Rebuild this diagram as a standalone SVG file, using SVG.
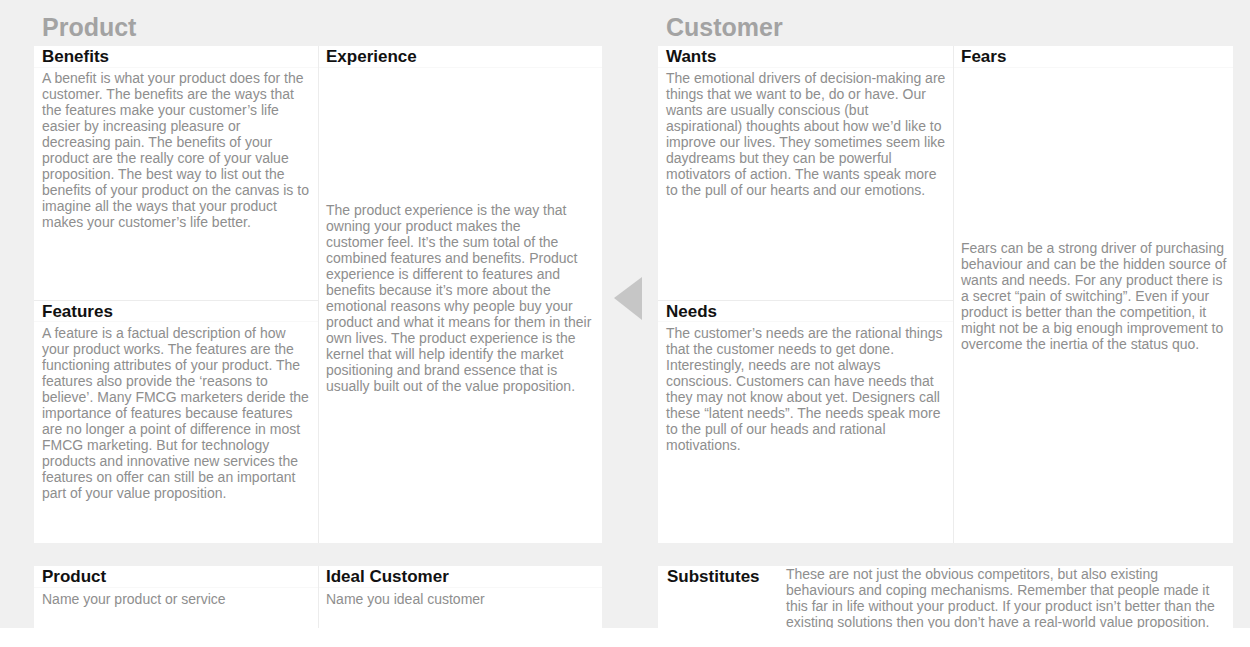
<svg xmlns="http://www.w3.org/2000/svg" width="1250" height="647" viewBox="0 0 1250 647">
<style>
.bg{fill:#f0f0f0}
.panel{fill:#ffffff}
.div{stroke:#ececec;stroke-width:1;fill:none}
.hl{stroke:#f8f8f8;stroke-width:1;fill:none}
.title{font-family:"Liberation Sans",Arial,sans-serif;font-weight:bold;font-size:25px;fill:#a3a3a3}
.head{font-family:"Liberation Sans",Arial,sans-serif;font-weight:bold;font-size:17px;fill:#111111}
.body{font-family:"Liberation Sans",Arial,sans-serif;font-size:14px;fill:#8e8e8e}
</style>
<rect class="bg" x="0" y="0" width="1250" height="628"/>

<text class="title" x="42" y="36">Product</text>
<text class="title" x="666" y="36">Customer</text>

<g id="product-panel">
<rect class="panel" x="34" y="46" width="568" height="497"/>
<line class="div" x1="318.5" y1="46" x2="318.5" y2="543"/>
<line class="div" x1="34" y1="300.5" x2="318" y2="300.5"/>
</g>

<g id="benefits">
<line class="hl" x1="34" y1="67.5" x2="318" y2="67.5"/>
<text class="head" x="42" y="62">Benefits</text>
<text class="body">
<tspan x="42" y="83">A benefit is what your product does for the</tspan>
<tspan x="42" y="99">customer. The benefits are the ways that</tspan>
<tspan x="42" y="115">the features make your customer’s life</tspan>
<tspan x="42" y="131">easier by increasing pleasure or</tspan>
<tspan x="42" y="147">decreasing pain. The benefits of your</tspan>
<tspan x="42" y="163">product are the really core of your value</tspan>
<tspan x="42" y="179">proposition. The best way to list out the</tspan>
<tspan x="42" y="195">benefits of your product on the canvas is to</tspan>
<tspan x="42" y="211">imagine all the ways that your product</tspan>
<tspan x="42" y="227">makes your customer’s life better.</tspan>
</text>
</g>

<g id="features">
<line class="hl" x1="34" y1="321.5" x2="318" y2="321.5"/>
<text class="head" x="42" y="317">Features</text>
<text class="body">
<tspan x="42" y="338">A feature is a factual description of how</tspan>
<tspan x="42" y="354">your product works. The features are the</tspan>
<tspan x="42" y="370">functioning attributes of your product. The</tspan>
<tspan x="42" y="386">features also provide the ‘reasons to</tspan>
<tspan x="42" y="402">believe’. Many FMCG marketers deride the</tspan>
<tspan x="42" y="418">importance of features because features</tspan>
<tspan x="42" y="434">are no longer a point of difference in most</tspan>
<tspan x="42" y="450">FMCG marketing. But for technology</tspan>
<tspan x="42" y="466">products and innovative new services the</tspan>
<tspan x="42" y="482">features on offer can still be an important</tspan>
<tspan x="42" y="498">part of your value proposition.</tspan>
</text>
</g>

<g id="experience">
<line class="hl" x1="319" y1="67.5" x2="602" y2="67.5"/>
<text class="head" x="326" y="62">Experience</text>
<text class="body">
<tspan x="326" y="215">The product experience is the way that</tspan>
<tspan x="326" y="231">owning your product makes the</tspan>
<tspan x="326" y="247">customer feel. It’s the sum total of the</tspan>
<tspan x="326" y="263">combined features and benefits. Product</tspan>
<tspan x="326" y="279">experience is different to features and</tspan>
<tspan x="326" y="295">benefits because it’s more about the</tspan>
<tspan x="326" y="311">emotional reasons why people buy your</tspan>
<tspan x="326" y="327">product and what it means for them in their</tspan>
<tspan x="326" y="343">own lives. The product experience is the</tspan>
<tspan x="326" y="359">kernel that will help identify the market</tspan>
<tspan x="326" y="375">positioning and brand essence that is</tspan>
<tspan x="326" y="391">usually built out of the value proposition.</tspan>
</text>
</g>

<g id="customer-panel">
<rect class="panel" x="658" y="46" width="575" height="497"/>
<line class="div" x1="953.5" y1="46" x2="953.5" y2="543"/>
<line class="div" x1="658" y1="300.5" x2="953" y2="300.5"/>
</g>

<g id="wants">
<line class="hl" x1="658" y1="67.5" x2="953" y2="67.5"/>
<text class="head" x="666" y="62">Wants</text>
<text class="body">
<tspan x="666" y="83">The emotional drivers of decision-making are</tspan>
<tspan x="666" y="99">things that we want to be, do or have. Our</tspan>
<tspan x="666" y="115">wants are usually conscious (but</tspan>
<tspan x="666" y="131">aspirational) thoughts about how we’d like to</tspan>
<tspan x="666" y="147">improve our lives. They sometimes seem like</tspan>
<tspan x="666" y="163">daydreams but they can be powerful</tspan>
<tspan x="666" y="179">motivators of action. The wants speak more</tspan>
<tspan x="666" y="195">to the pull of our hearts and our emotions.</tspan>
</text>
</g>

<g id="needs">
<line class="hl" x1="658" y1="321.5" x2="953" y2="321.5"/>
<text class="head" x="666" y="317">Needs</text>
<text class="body">
<tspan x="666" y="338">The customer’s needs are the rational things</tspan>
<tspan x="666" y="354">that the customer needs to get done.</tspan>
<tspan x="666" y="370">Interestingly, needs are not always</tspan>
<tspan x="666" y="386">conscious. Customers can have needs that</tspan>
<tspan x="666" y="402">they may not know about yet. Designers call</tspan>
<tspan x="666" y="418">these “latent needs”. The needs speak more</tspan>
<tspan x="666" y="434">to the pull of our heads and rational</tspan>
<tspan x="666" y="450">motivations.</tspan>
</text>
</g>

<g id="fears">
<line class="hl" x1="954" y1="67.5" x2="1233" y2="67.5"/>
<text class="head" x="961" y="62">Fears</text>
<text class="body">
<tspan x="961" y="253">Fears can be a strong driver of purchasing</tspan>
<tspan x="961" y="269">behaviour and can be the hidden source of</tspan>
<tspan x="961" y="285">wants and needs. For any product there is</tspan>
<tspan x="961" y="301">a secret “pain of switching”. Even if your</tspan>
<tspan x="961" y="317">product is better than the competition, it</tspan>
<tspan x="961" y="333">might not be a big enough improvement to</tspan>
<tspan x="961" y="349">overcome the inertia of the status quo.</tspan>
</text>
</g>

<g id="connectors">
<polygon points="614,298 642,277 642,320" fill="#c6c6c6"/>
</g>

<g id="product-name">
<rect class="panel" x="34" y="566" width="284" height="62"/>
<line class="hl" x1="34" y1="587.5" x2="318" y2="587.5"/>
<text class="head" x="42" y="582">Product</text>
<text class="body" x="42" y="604">Name your product or service</text>
</g>

<g id="ideal-customer">
<rect class="panel" x="318" y="566" width="284" height="62"/>
<line class="div" x1="318.5" y1="566" x2="318.5" y2="628"/>
<line class="hl" x1="319" y1="587.5" x2="602" y2="587.5"/>
<text class="head" x="326" y="582">Ideal Customer</text>
<text class="body" x="326" y="604">Name you ideal customer</text>
</g>

<g id="substitutes">
<rect class="panel" x="658" y="566" width="575" height="62"/>
<text class="head" x="667" y="582">Substitutes</text>
<text class="body">
<tspan x="786" y="579">These are not just the obvious competitors, but also existing</tspan>
<tspan x="786" y="595">behaviours and coping mechanisms. Remember that people made it</tspan>
<tspan x="786" y="611">this far in life without your product. If your product isn’t better than the</tspan>
<tspan x="786" y="627">existing solutions then you don’t have a real-world value proposition.</tspan>
</text>
</g>

<rect x="0" y="628" width="1250" height="19" fill="#ffffff"/>
</svg>
